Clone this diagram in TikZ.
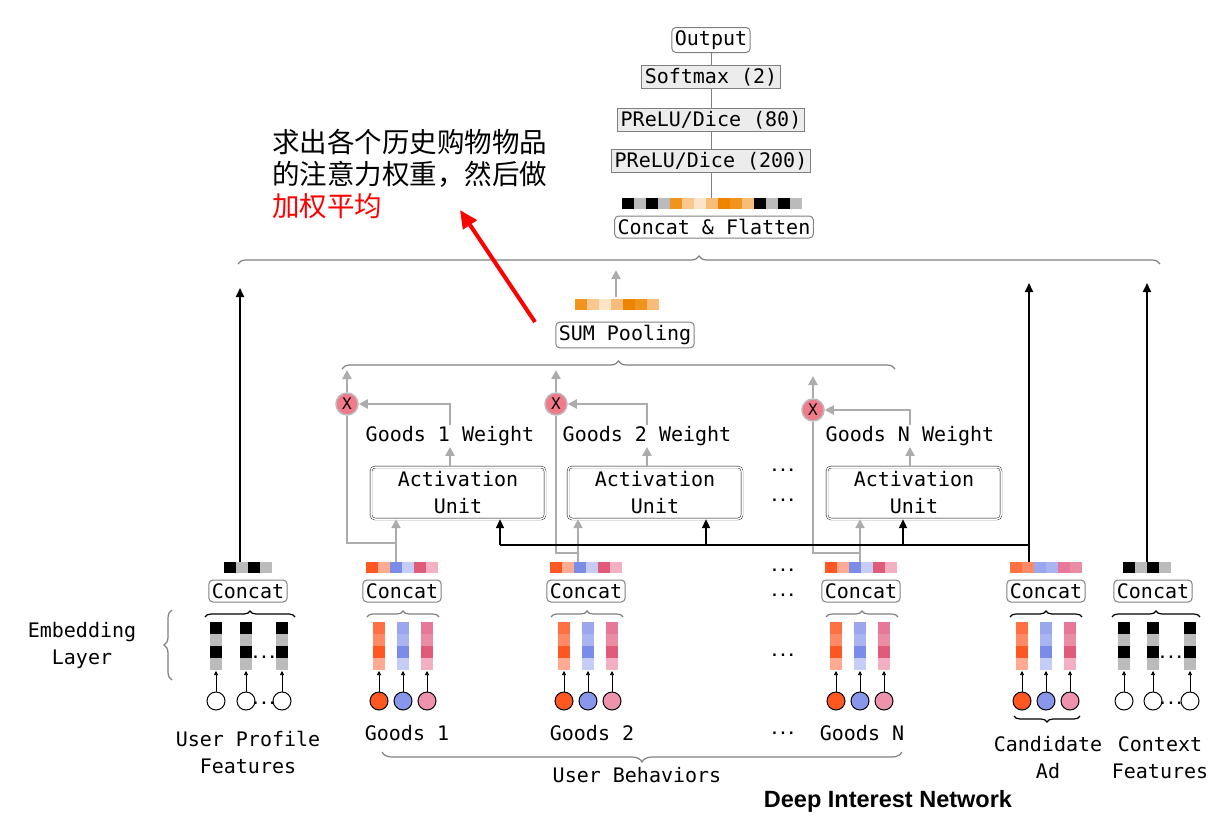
\documentclass[tikz,border=0pt]{standalone}
\usepackage{fontspec}
\setmainfont{DejaVu Sans Mono}
\newfontfamily\cjk{Noto Sans CJK SC}
\newfontfamily\headfont{Liberation Sans}
\usetikzlibrary{arrows.meta,decorations.pathreplacing,calc}
\definecolor{ored}{HTML}{FF5722}\definecolor{oa}{HTML}{FF7043}
\definecolor{ob}{HTML}{FF8A65}\definecolor{oc}{HTML}{FFAB91}
\definecolor{bred}{HTML}{7B8CE8}\definecolor{ba}{HTML}{9AA6EE}
\definecolor{bb}{HTML}{A9B4F0}\definecolor{bc}{HTML}{C5CCF5}
\definecolor{pred}{HTML}{E05A7A}\definecolor{pa}{HTML}{E8789A}
\definecolor{pb}{HTML}{EA8CA4}\definecolor{pc}{HTML}{F2B0C2}
\definecolor{ka}{HTML}{F0941E}\definecolor{kb}{HTML}{F8C88E}
\definecolor{kc}{HTML}{FCE4C6}\definecolor{kd}{HTML}{F7BC7A}
\definecolor{ke}{HTML}{EE8400}
\definecolor{eg}{HTML}{BBBBBB}\definecolor{xpink}{HTML}{F07A8A}
% horizontal and vertical strips of 12px cells
\newcommand\cellbar[3]{\edef\cellist{#3}\foreach \c [count=\i from 0] in \cellist
  \fill[\c] ({#1+12*\i},#2) rectangle ++(12,11);}
\newcommand\cellcol[3]{\edef\cellist{#3}\foreach \c [count=\i from 0] in \cellist
  \fill[\c] (#1-6,{#2+12*\i}) rectangle ++(12,12);}
\tikzset{
  txt/.style={font=\fontsize{20}{27}\selectfont, align=center, inner sep=1pt},
  box/.style={txt, draw=gray, line width=1, rounded corners=4pt, minimum height=22, inner sep=3pt},
  gbox/.style={txt, draw=gray, line width=1, fill=gray!15, minimum height=22, inner sep=3pt},
  act/.style={txt, draw, double=white, double distance=1.5pt, rounded corners=4pt,
    minimum width=174, minimum height=52},
  garr/.style={draw=gray!65, line width=2.5, -{Triangle[length=9,width=9]}},
  gline/.style={draw=gray!65, line width=2.5},
  barr/.style={draw, line width=2, -{Triangle[length=9,width=8]}},
  sarr/.style={draw, line width=0.6, -{Triangle[length=4,width=4]}},
  brc/.style={draw=gray, line width=1.2, decorate, decoration={brace,amplitude=#1}},
  brc/.default=6,
  xnode/.style={circle, draw=eg, line width=1.5, fill=xpink, inner sep=0, minimum size=22,
    font=\fontsize{16}{16}\selectfont},
  inp/.style={circle, draw, line width=1, inner sep=0, minimum size=18},
  dots/.style={font=\fontsize{14}{14}\selectfont\bfseries, inner sep=0},
}
\begin{document}
\begin{tikzpicture}[x=1pt,y=-1pt]
\useasboundingbox (0,0) rectangle (1232,825);
% ---- top stack
\node[box] (out) at (711,40) {Output};
\node[gbox] (soft) at (711,77) {Softmax (2)};
\node[gbox] (p80) at (711,120) {PReLU/Dice (80)};
\node[gbox] (p200) at (711,161) {PReLU/Dice (200)};
\coordinate (topbar) at (711,198);
\draw[gray] (out) -- (soft);
\draw[gray] (soft) -- (p80);
\draw[gray] (p80) -- (p200);
\draw[gray] (p200) -- (topbar);
\cellbar{622}{198}{black,eg,black,eg,ka,kb,kc,kd,ke,ka,kd,black,eg,black,eg}
\node[box] (flat) at (714,227) {Concat \& Flatten};
\draw[brc=8] (238,264) -- (1160,264);
% ---- pooling
\coordinate (poolbar) at (616,297);
\coordinate (pooltop) at (616,270);
\draw[garr] (poolbar) -- (pooltop);
\cellbar{575}{299}{ka,kb,kc,kd,ke,ka,kd}
\node[box] (sum) at (625,335) {SUM Pooling};
\draw[brc=8] (342,369) -- (895,369);
% ---- annotation
\coordinate (rs) at (535,322);
\coordinate (re) at (460,210);
\draw[red, line width=4, -{Triangle[length=18,width=16]}] (rs) -- (re);
\node[anchor=north west, align=left, inner sep=0, font=\cjk\fontsize{27.5}{32}\selectfont] (note) at (272,129)
  {求出各个历史购物物品\\的注意力权重，然后做\\\textcolor{red}{加权平均}};
% ---- side feature lines
\coordinate (ub) at (240,562); \coordinate (ut) at (240,288);
\coordinate (cb) at (1029,562); \coordinate (ct) at (1029,283);
\coordinate (xb) at (1147,562); \coordinate (xt) at (1147,283);
\draw[barr] (ub) -- (ut);
\draw[barr] (cb) -- (ct);
\draw[barr] (xb) -- (xt);
% ---- goods units
\foreach \n/\ax/\bl/\ar/\cx/\cy/\wx/\by/\bk/\lab in
  {1/458/366/396/347/404/450/543/500/Goods 1 Weight,
   2/655/550/578/556/404/647/553/706/Goods 2 Weight,
   3/914/825/860/813/410/910/553/903/Goods N Weight}{
  \node[act] (a\n) at (\ax,493) {Activation\\Unit};
  \node[txt] (w\n) at (\wx,436) {\lab};
  \node[xnode] (x\n) at (\cx,\cy) {X};
  \coordinate (gb\n) at (\ar,562);
  \coordinate (gk\n) at (\ar,\by);
  \coordinate (gc\n) at (\cx,\by);
  \coordinate (xu\n) at (\cx,\cy-34);
  \coordinate (kb\n) at (\bk,545);
  \draw[garr] (gb\n) -- (gb\n |- a\n.south);
  \draw[gline] (gk\n) -- (gc\n) -- (x\n.south);
  \draw[garr] (w\n.south |- a\n.north) -- (w\n.south);
  \draw[garr] (w\n.north) |- (x\n.east);
  \draw[garr] (x\n.north) -- (xu\n);
  \draw[barr] (kb\n) -- (kb\n |- a\n.south);
  \cellbar{\bl}{562}{ored,oc,bred,bc,pred,pc}
}
\coordinate (kl) at (500,545);
\draw[line width=2] (kl) -- (cb |- kl);
% ---- concat boxes and embeddings
\node[box] (c0) at (248,591) {Concat};
\node[box] (c1) at (402,591) {Concat};
\node[box] (c2) at (586,591) {Concat};
\node[box] (c3) at (861,591) {Concat};
\node[box] (c4) at (1046,591) {Concat};
\node[box] (c5) at (1153,591) {Concat};
\cellbar{224}{562}{black,eg,black,eg}
\cellbar{1010}{562}{oa,ob,ba,bb,pa,pb}
\cellbar{1123}{562}{black,eg,black,eg}
\draw[brc, draw=black] (205,617) -- (295,617);
\draw[brc] (367,617) -- (439,617);
\draw[brc] (551,617) -- (623,617);
\draw[brc] (826,617) -- (898,617);
\draw[brc, draw=black] (1010,617) -- (1082,617);
\draw[brc, draw=black] (1112,617) -- (1200,617);
\foreach \k/\x/\cols in {
  p1/216/{black,eg,black,eg}, p2/246/{black,eg,black,eg}, p3/282/{black,eg,black,eg},
  a1/379/{oa,ob,ored,oc}, a2/403/{ba,bb,bred,bc}, a3/427/{pa,pb,pred,pc},
  b1/564/{oa,ob,ored,oc}, b2/588/{ba,bb,bred,bc}, b3/612/{pa,pb,pred,pc},
  n1/836/{oa,ob,ored,oc}, n2/860/{ba,bb,bred,bc}, n3/884/{pa,pb,pred,pc},
  d1/1022/{oa,ob,ored,oc}, d2/1046/{ba,bb,bred,bc}, d3/1070/{pa,pb,pred,pc},
  e1/1124/{black,eg,black,eg}, e2/1153/{black,eg,black,eg}, e3/1190/{black,eg,black,eg}}{
  \cellcol{\x}{622}{\cols}
  \coordinate (t\k) at (\x,671);
}
% input circles
\foreach \k/\f in {p1/white,p2/white,p3/white,a1/ored,a2/bred!90,a3/pa!80,
  b1/ored,b2/bred!90,b3/pa!80,n1/ored,n2/bred!90,n3/pa!80,
  d1/ored,d2/bred!90,d3/pa!80,e1/white,e2/white,e3/white}{
  \node[inp, fill=\f] (i\k) at ($(t\k)+(0,30)$) {};
  \draw[sarr] (i\k) -- (t\k);
}
\node[dots] (dp1) at (264,657) {...};
\node[dots] (dp2) at (264,703) {...};
\node[dots] (de1) at (1171,657) {...};
\node[dots] (de2) at (1171,703) {...};
\foreach \y [count=\i] in {470,500,570,595,655,733}
  \node[dots] (dm\i) at (783,\y) {...};
% ---- braces and labels
\draw[brc=8] (172,680) -- (172,610);
\node[txt] (emb) at (82,645) {Embedding\\Layer};
\draw[brc, draw=black] (1080,716) -- (1014,716);
\draw[brc=10] (902,752) -- (382,752);
\node[txt] (g1) at (407,733) {Goods 1};
\node[txt] (g2) at (592,733) {Goods 2};
\node[txt] (g3) at (862,733) {Goods N};
\node[txt] (up) at (248,752) {User Profile\\Features};
\node[txt] (cad) at (1048,758) {Candidate\\Ad};
\node[txt] (ctx) at (1160,758) {Context\\Features};
\node[txt] (ub2) at (637,775) {User Behaviors};
\node[font=\headfont\bfseries\fontsize{23.5}{24}\selectfont] (title) at (888,801) {Deep Interest Network};
\end{tikzpicture}
\end{document}
